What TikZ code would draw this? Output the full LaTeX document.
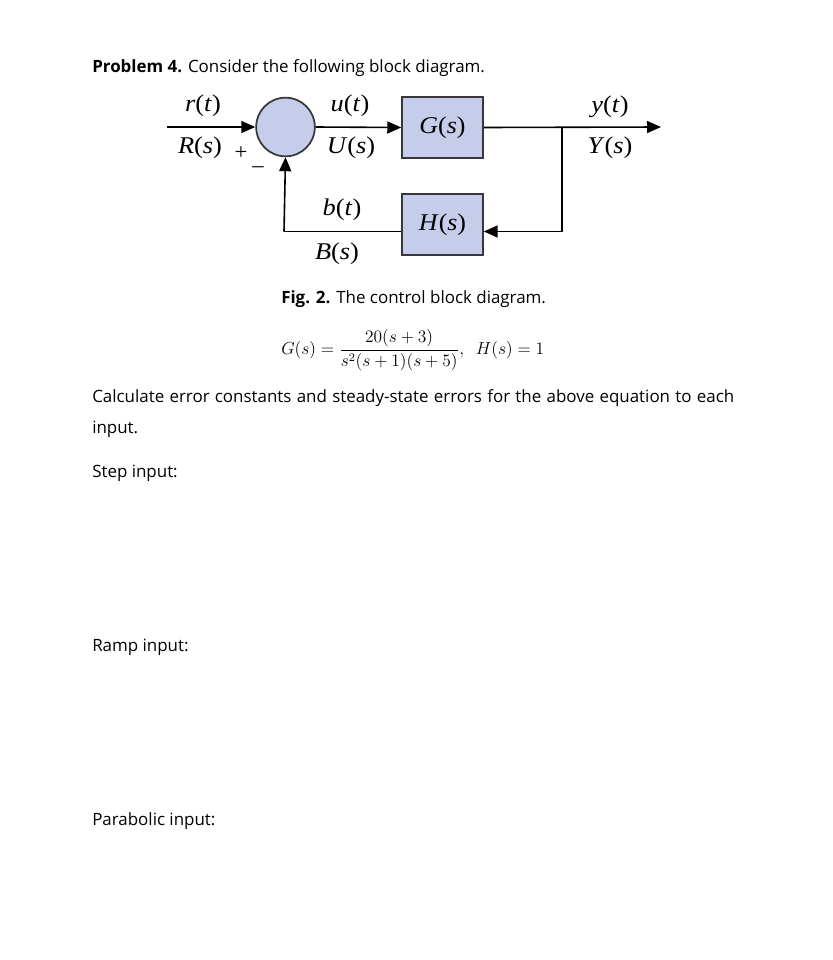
\documentclass[tikz,border=0pt]{standalone}
\usepackage{fontspec}
\usepackage{graphicx}
\setmainfont{Open Sans}
\newfontfamily\tms{Liberation Serif}
\usetikzlibrary{arrows.meta}
\definecolor{blkfill}{RGB}{197,205,234}
\definecolor{blkdraw}{RGB}{55,55,60}
\tikzset{
  px/.style={x=0.75pt,y=-0.75pt},
  sumnode/.style={circle,draw=blkdraw,fill=blkfill,line width=1.3pt,minimum size=44pt,inner sep=0pt},
  blocknode/.style={rectangle,draw=blkdraw,fill=blkfill,line width=1.1pt,minimum width=60.75pt,minimum height=45.75pt,inner sep=0pt,font=\tms\fontsize{18}{20}\selectfont},
  sig/.style={line width=1.2pt,draw=black},
  arr/.style={sig,-{Triangle[length=10.5pt,width=9pt]}},
  lbl/.style={font=\tms\fontsize{18}{20}\selectfont,inner sep=0pt},
  body/.style={font=\fontsize{12.7}{15}\selectfont,inner sep=0pt,anchor=base west}
}
\begin{document}
\begin{tikzpicture}[px]
\useasboundingbox (0,0) rectangle (832,960);
\fill[white] (0,0) rectangle (832,960);
% text
\node[body] (title) at (92,72) {\textbf{Problem 4.} Consider the following block diagram.};
% diagram
\node[sumnode] (sum) at (285.5,127) {};
\node[blocknode] (G) at (442.5,127.5) {\scalebox{1.08}[1]{\textit{G}(\textit{s})}};
\node[blocknode] (H) at (442.5,224.5) {\scalebox{1.08}[1]{\textit{H}(\textit{s})}};
\coordinate (in) at (167,127);
\coordinate (out) at (661,127);
\coordinate (br) at (562,127);
\coordinate (fbr) at (562,231.5);
\coordinate (fbl) at (284,231.5);
\draw[arr] (in) -- (sum.west);
\draw[arr] (sum.east) -- (G.west);
\draw[arr] (G.east) -- (out);
\draw[arr] (br) -- (fbr) -- (fbr -| H.east);
\draw[sig] (fbr -| H.west) -- (fbl);
\draw[arr] (fbl) -- (sum.south);
% labels
\node[lbl] (rt) at (203,106) {\scalebox{1.1}[1]{\textit{r}(\textit{t})}};
\node[lbl] (Rs) at (200,148) {\scalebox{1.1}[1]{\textit{R}(\textit{s})}};
\node[lbl,font=\tms\fontsize{17}{18}\selectfont] (plus) at (241,153) {+};
\node[lbl,font=\tms\fontsize{17}{18}\selectfont] (minus) at (258,170) {\textendash};
\node[lbl] (ut) at (350,106) {\scalebox{1.1}[1]{\textit{u}(\textit{t})}};
\node[lbl] (Us) at (351,148) {\scalebox{1.1}[1]{\textit{U}(\textit{s})}};
\node[lbl] (yt) at (610,107) {\scalebox{1.1}[1]{\textit{y}(\textit{t})}};
\node[lbl] (Ys) at (610,148) {\scalebox{1.1}[1]{\textit{Y}(\textit{s})}};
\node[lbl] (bt) at (342,210) {\scalebox{1.1}[1]{\textit{b}(\textit{t})}};
\node[lbl] (Bs) at (337,254) {\scalebox{1.1}[1]{\textit{B}(\textit{s})}};
% caption and equation
\node[body] (cap) at (281,303) {\textbf{Fig. 2.} The control block diagram.};
\node[inner sep=0pt,anchor=west,font=\fontsize{12}{15}\selectfont] (eq) at (281,350) {\scalebox{1.09}{$G(s)=\displaystyle\frac{20(s+3)}{s^{2}(s+1)(s+5)},\ \ H(s)=1$}};
% question
\node[body] (q1) at (92,402) {\makebox[481.5pt][s]{Calculate error constants and steady-state errors for the above equation to each}};
\node[body] (q2) at (92,433) {input.};
\node[body] (step) at (92,477) {Step input:};
\node[body] (ramp) at (92,651) {Ramp input:};
\node[body] (para) at (92,825) {Parabolic input:};
\end{tikzpicture}
\end{document}
